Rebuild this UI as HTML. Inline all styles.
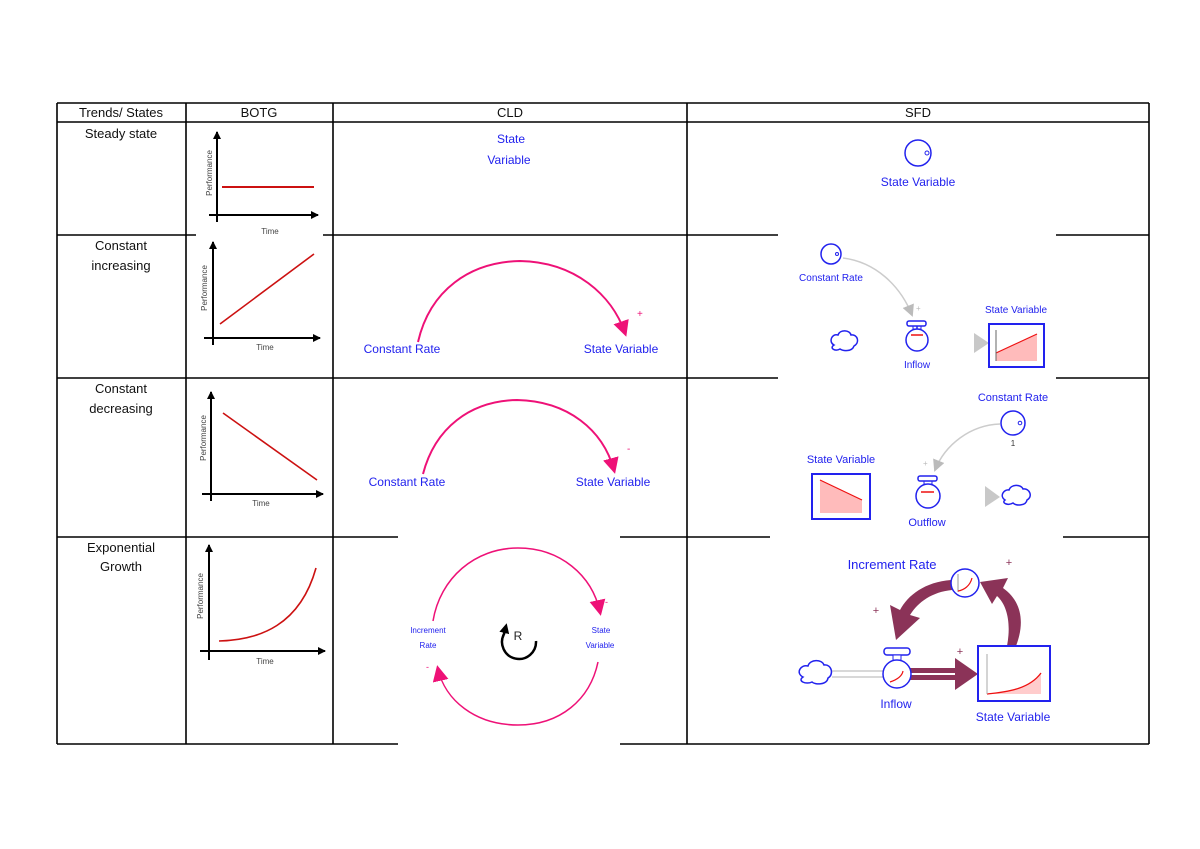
<!DOCTYPE html>
<html><head><meta charset="utf-8"><style>
html,body{margin:0;padding:0;background:#fff}
svg{display:block}
.t{font-family:"Liberation Sans",sans-serif;font-size:13px;fill:#111;text-anchor:middle}
.b{font-family:"Liberation Sans",sans-serif;fill:#2222ee;text-anchor:middle}
.p{font-family:"Liberation Sans",sans-serif;font-size:8px;fill:#444;text-anchor:middle}
</style></head><body>
<svg width="1200" height="849" viewBox="0 0 1200 849" xmlns="http://www.w3.org/2000/svg">
<defs>
<marker id="ak" markerWidth="8" markerHeight="8" refX="7" refY="4" orient="auto" markerUnits="userSpaceOnUse"><path d="M0,0 L8,4 L0,8 z" fill="#000"/></marker>
<marker id="pk" markerWidth="16" markerHeight="16" refX="12" refY="8" orient="auto" markerUnits="userSpaceOnUse"><path d="M0,0 L16,8 L0,16 z" fill="#ee1177"/></marker>
<marker id="gk" markerWidth="12" markerHeight="12" refX="10" refY="6" orient="auto" markerUnits="userSpaceOnUse"><path d="M0,0 L12,6 L0,12 z" fill="#bbb"/></marker>
<marker id="bk" markerWidth="10" markerHeight="10" refX="3" refY="5" orient="auto" markerUnits="userSpaceOnUse"><path d="M0,0 L10,5 L0,10 z" fill="#000"/></marker>
</defs>
<!-- table -->
<g stroke="#000" stroke-width="1.6">
<line x1="57" y1="103" x2="1149" y2="103"/>
<line x1="57" y1="122" x2="1149" y2="122"/>
<line x1="57" y1="235" x2="196" y2="235"/><line x1="323" y1="235" x2="778" y2="235"/><line x1="1056" y1="235" x2="1149" y2="235"/>
<line x1="57" y1="378" x2="778" y2="378"/><line x1="1056" y1="378" x2="1149" y2="378"/>
<line x1="57" y1="537" x2="398" y2="537"/><line x1="620" y1="537" x2="770" y2="537"/><line x1="1063" y1="537" x2="1149" y2="537"/>
<line x1="57" y1="744" x2="398" y2="744"/><line x1="620" y1="744" x2="1149" y2="744"/>
<line x1="57" y1="103" x2="57" y2="744"/>
<line x1="186" y1="103" x2="186" y2="744"/>
<line x1="333" y1="103" x2="333" y2="744"/>
<line x1="687" y1="103" x2="687" y2="744"/>
<line x1="1149" y1="103" x2="1149" y2="744"/>
</g>
<text class="t" x="121" y="117">Trends/ States</text>
<text class="t" x="259" y="117">BOTG</text>
<text class="t" x="510" y="117">CLD</text>
<text class="t" x="918" y="117">SFD</text>
<text class="t" x="121" y="138">Steady state</text>
<text class="t" x="121" y="250">Constant</text><text class="t" x="121" y="270">increasing</text>
<text class="t" x="121" y="393">Constant</text><text class="t" x="121" y="413">decreasing</text>
<text class="t" x="121" y="552">Exponential</text><text class="t" x="121" y="571">Growth</text>

<!-- BOTG -->
<g stroke="#000" stroke-width="2" fill="none">
<line x1="217" y1="222" x2="217" y2="132" marker-end="url(#ak)"/><line x1="209" y1="215" x2="318" y2="215" marker-end="url(#ak)"/>
<line x1="213" y1="345" x2="213" y2="242" marker-end="url(#ak)"/><line x1="204" y1="338" x2="320" y2="338" marker-end="url(#ak)"/>
<line x1="211" y1="501" x2="211" y2="392" marker-end="url(#ak)"/><line x1="202" y1="494" x2="323" y2="494" marker-end="url(#ak)"/>
<line x1="209" y1="660" x2="209" y2="545" marker-end="url(#ak)"/><line x1="200" y1="651" x2="325" y2="651" marker-end="url(#ak)"/>
</g>
<g stroke="#cc1111" stroke-width="1.6" fill="none">
<line x1="222" y1="187" x2="314" y2="187" stroke-width="2"/>
<line x1="220" y1="324" x2="314" y2="254"/>
<line x1="223" y1="413" x2="317" y2="480"/>
<path d="M219,641 C260,640 300,625 316,568"/>
</g>
<text class="p" transform="translate(212,173) rotate(-90)">Performance</text>
<text class="p" transform="translate(207,288) rotate(-90)">Performance</text>
<text class="p" transform="translate(206,438) rotate(-90)">Performance</text>
<text class="p" transform="translate(203,596) rotate(-90)">Performance</text>
<text class="p" x="270" y="234">Time</text>
<text class="p" x="265" y="350">Time</text>
<text class="p" x="261" y="506">Time</text>
<text class="p" x="265" y="664">Time</text>

<!-- CLD -->
<text class="b" x="511" y="143" font-size="12">State</text>
<text class="b" x="509" y="164" font-size="12">Variable</text>
<g stroke="#ee1177" stroke-width="2" fill="none">
<path d="M418,342 C430,290 470,262 520,261 C575,262 612,295 625,333" marker-end="url(#pk)"/>
<path d="M423,474 C435,428 470,401 517,400 C568,401 603,430 614,470" marker-end="url(#pk)"/>
<path d="M433,621 C440,578 475,548 518,548 C560,548 592,575 600,612" marker-end="url(#pk)" stroke-width="1.5"/>
<path d="M598,662 C590,700 560,725 518,725 C475,725 445,700 438,669" marker-end="url(#pk)" stroke-width="1.5"/>
</g>
<text class="b" x="402" y="353" font-size="12">Constant Rate</text>
<text class="b" x="621" y="353" font-size="12">State Variable</text>
<text x="637" y="317" font-size="10" fill="#ee1177" font-family="Liberation Sans">+</text>
<text class="b" x="407" y="486" font-size="12">Constant Rate</text>
<text class="b" x="613" y="486" font-size="12">State Variable</text>
<text x="627" y="452" font-size="10" fill="#ee1177" font-family="Liberation Sans">-</text>
<text class="b" x="428" y="633" font-size="8">Increment</text>
<text class="b" x="428" y="648" font-size="8">Rate</text>
<text class="b" x="601" y="633" font-size="8">State</text>
<text class="b" x="600" y="648" font-size="8">Variable</text>
<text x="605" y="605" font-size="9" fill="#ee1177" font-family="Liberation Sans">-</text>
<text x="426" y="670" font-size="9" fill="#ee1177" font-family="Liberation Sans">-</text>
<path d="M536,641 A17,17 0 1 1 504,634 L505,630" stroke="#000" stroke-width="2.5" fill="none" marker-end="url(#bk)"/>
<text x="518" y="640" font-size="12" fill="#222" font-family="Liberation Sans" text-anchor="middle">R</text>

<!-- SFD row1 -->
<circle cx="918" cy="153" r="13" fill="none" stroke="#2222ee" stroke-width="1.5"/>
<circle cx="927" cy="153" r="2" fill="none" stroke="#2222ee"/>
<text class="b" x="918" y="186" font-size="12">State Variable</text>

<!-- SFD row2 -->
<circle cx="831" cy="254" r="10" fill="none" stroke="#2222ee" stroke-width="1.5"/>
<circle cx="837" cy="254" r="1.5" fill="none" stroke="#2222ee"/>
<text class="b" x="831" y="281" font-size="10">Constant Rate</text>
<path d="M843,258 C875,262 900,285 912,315" stroke="#ccc" stroke-width="1.5" fill="none" marker-end="url(#gk)"/>
<text x="916" y="311" font-size="8" fill="#bbb" font-family="Liberation Sans">+</text>
<path d="M834,345 C828,342 832,333 838,335 C840,329 850,330 851,335 C858,334 860,343 854,346 C852,352 843,351 840,349 C835,352 829,348 834,345 z" fill="none" stroke="#2222ee" stroke-width="1.5"/>
<rect x="907" y="321" width="19" height="5" rx="2" fill="none" stroke="#2222ee" stroke-width="1.5"/>
<line x1="917" y1="326" x2="917" y2="329" stroke="#2222ee" stroke-width="1.5"/>
<rect x="913" y="326" width="8" height="3" fill="none" stroke="#2222ee"/>
<circle cx="917" cy="340" r="11" fill="none" stroke="#2222ee" stroke-width="1.5"/>
<line x1="911" y1="335" x2="923" y2="335" stroke="#ee1111" stroke-width="1.5"/>
<text class="b" x="917" y="368" font-size="10">Inflow</text>
<path d="M974,333 L989,343 L974,353 z" fill="#c8c8c8"/>
<text class="b" x="1016" y="313" font-size="10">State Variable</text>
<rect x="989" y="324" width="55" height="43" fill="#fff" stroke="#2222ee" stroke-width="2"/>
<path d="M996,353 L1037,334 L1037,361 L996,361 z" fill="#ffbbbb"/>
<line x1="996" y1="353" x2="1037" y2="334" stroke="#ee1111" stroke-width="1.2"/>
<line x1="996" y1="330" x2="996" y2="361" stroke="#666"/>

<!-- SFD row3 -->
<text class="b" x="1013" y="401" font-size="11">Constant Rate</text>
<circle cx="1013" cy="423" r="12" fill="none" stroke="#2222ee" stroke-width="1.5"/>
<circle cx="1020" cy="423" r="1.8" fill="none" stroke="#2222ee"/>
<text x="1013" y="446" font-size="8" fill="#333" font-family="Liberation Sans" text-anchor="middle">1</text>
<path d="M1000,424 C970,425 945,445 935,470" stroke="#ccc" stroke-width="1.5" fill="none" marker-end="url(#gk)"/>
<text x="923" y="466" font-size="8" fill="#bbb" font-family="Liberation Sans">+</text>
<text class="b" x="841" y="463" font-size="11">State Variable</text>
<rect x="812" y="474" width="58" height="45" fill="#fff" stroke="#2222ee" stroke-width="2"/>
<path d="M820,480 L862,500 L862,513 L820,513 z" fill="#ffbbbb"/>
<line x1="820" y1="480" x2="862" y2="500" stroke="#ee1111" stroke-width="1.2"/>
<rect x="918" y="476" width="19" height="5" rx="2" fill="none" stroke="#2222ee" stroke-width="1.5"/>
<rect x="924" y="481" width="8" height="3" fill="none" stroke="#2222ee"/>
<circle cx="928" cy="496" r="12" fill="none" stroke="#2222ee" stroke-width="1.5"/>
<line x1="921" y1="492" x2="934" y2="492" stroke="#ee1111" stroke-width="1.5"/>
<text class="b" x="927" y="526" font-size="11">Outflow</text>
<path d="M985,486 L1000,497 L985,507 z" fill="#c8c8c8"/>
<path d="M1005,500 C999,496 1004,489 1009,490 C1011,484 1021,484 1023,489 C1030,488 1033,497 1027,500 C1026,506 1016,506 1013,503 C1008,506 1001,503 1005,500 z" fill="none" stroke="#2222ee" stroke-width="1.5"/>

<!-- SFD row4 -->
<text class="b" x="892" y="569" font-size="13">Increment Rate</text>
<g fill="#8b3358">
<path d="M1016,646 C1026,620 1020,600 1003,588 L1008,578 L980,582 L992,604 L997,596 C1008,606 1011,625 1007,646 z"/>
<path d="M951,580 C925,582 908,595 900,610 L890,605 L896,640 L920,618 L910,615 C918,602 932,592 952,590 z"/>
<path d="M910,668 L955,668 L955,658 L978,674 L955,690 L955,680 L910,680 z"/>
</g>
<line x1="910" y1="674" x2="955" y2="674" stroke="#fff" stroke-width="2"/>
<text x="1009" y="566" font-size="11" fill="#8b3358" font-family="Liberation Sans" text-anchor="middle">+</text>
<text x="876" y="614" font-size="11" fill="#8b3358" font-family="Liberation Sans" text-anchor="middle">+</text>
<text x="960" y="655" font-size="11" fill="#8b3358" font-family="Liberation Sans" text-anchor="middle">+</text>
<circle cx="965" cy="583" r="14" fill="#fff" stroke="#2222ee" stroke-width="1.5"/>
<line x1="958" y1="574" x2="958" y2="592" stroke="#999"/>
<path d="M958,591 C964,590 970,586 972,578" stroke="#ee1111" fill="none" stroke-width="1.2"/>
<line x1="832" y1="671" x2="885" y2="671" stroke="#ccc" stroke-width="1.5"/>
<line x1="832" y1="677" x2="885" y2="677" stroke="#ccc" stroke-width="1.5"/>
<path d="M803,677 C795,673 801,664 808,666 C810,659 822,659 824,665 C832,664 834,675 828,678 C827,685 815,685 812,682 C806,685 797,681 803,677 z" fill="#fff" stroke="#2222ee" stroke-width="1.5"/>
<rect x="884" y="648" width="26" height="7" rx="3" fill="#fff" stroke="#2222ee" stroke-width="1.5"/>
<rect x="893" y="655" width="8" height="5" fill="#fff" stroke="#2222ee"/>
<circle cx="897" cy="674" r="14" fill="#fff" stroke="#2222ee" stroke-width="1.5"/>
<path d="M890,682 C896,680 902,677 903,671" stroke="#ee1111" fill="none" stroke-width="1.2"/>
<text class="b" x="896" y="708" font-size="12">Inflow</text>
<rect x="978" y="646" width="72" height="55" fill="#fff" stroke="#2222ee" stroke-width="2"/>
<path d="M987,694 C1010,692 1030,688 1041,673 L1041,694 z" fill="#ffcccc"/>
<path d="M987,694 C1010,692 1030,688 1041,673" stroke="#ee1111" fill="none" stroke-width="1.3"/>
<line x1="987" y1="654" x2="987" y2="694" stroke="#aaa"/>
<text class="b" x="1013" y="721" font-size="12">State Variable</text>
</svg>
</body></html>
